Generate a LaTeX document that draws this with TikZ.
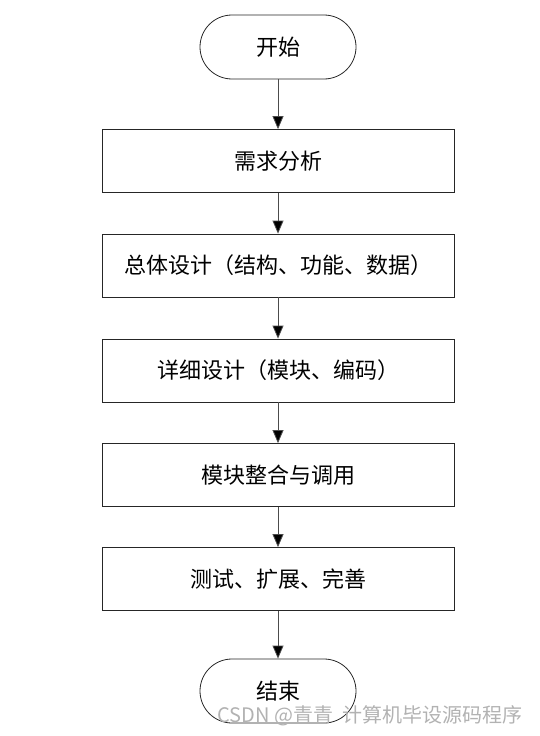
\documentclass[tikz,border=0pt]{standalone}
\usepackage{fontspec}
\usepackage{tikz}
\usetikzlibrary{arrows.meta}
\newfontfamily\cjk{Noto Sans CJK SC}

\tikzset{
    terminal/.style={draw=black!85, line width=0.8pt, rounded corners=32pt,
        minimum width=156pt, minimum height=64pt, font=\cjk\fontsize{22}{26}\selectfont},
    stepbox/.style={draw=black!85, line width=0.8pt, minimum width=352pt,
        minimum height=63pt, font=\cjk\fontsize{22}{26}\selectfont},
    flow/.style={draw=black!70, line width=0.8pt,
        -{Triangle[width=11pt,length=13pt,fill=black]}}
}

\begin{document}
\begin{tikzpicture}[x=1pt,y=-1pt]
    \useasboundingbox (0,0) rectangle (540,736);

    % Draw start and end
    \node[terminal] (start) at (278,47) {开始};
    \node[terminal] (stop) at (278,691) {结束};

    % Draw the process boxes
    \foreach \y/\name/\label in {161/demand/{需求分析},
            265.5/overall/{总体设计（结构、功能、数据）},
            370.5/detail/{详细设计（模块、编码）},
            475/merge/{模块整合与调用},
            579/test/{测试、扩展、完善}} {
        \node[stepbox] (\name) at (278,\y) {\label};
    }

    % Draw arrows between the boxes
    \foreach \a/\b in {start/demand, demand/overall, overall/detail,
            detail/merge, merge/test, test/stop} {
        \draw[flow] (\a) -- (\b);
    }

    % Watermark
    \node[text=black!30, font=\cjk\fontsize{20}{24}\selectfont, anchor=east]
        (mark) at (526,716) {CSDN @青青\ \ 计算机毕设源码程序};
\end{tikzpicture}
\end{document}
